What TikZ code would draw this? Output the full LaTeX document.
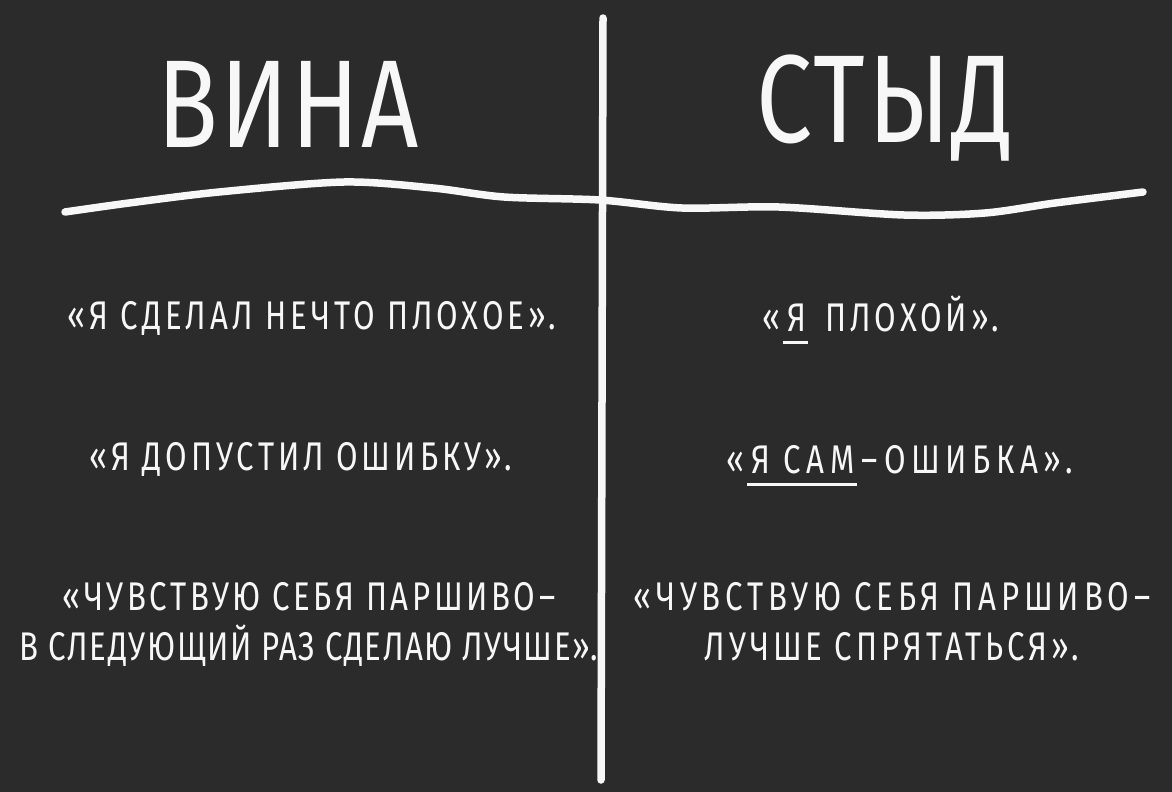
\documentclass[tikz,border=0pt]{standalone}
\usepackage{fontspec}
\setmainfont{Fira Sans}
\newfontfamily\titlefont[FakeStretch=0.8,LetterSpace=2]{Fira Sans}
\newfontfamily\quotefont[FakeStretch=0.78,LetterSpace=10]{Fira Sans}
\usepackage{xcolor}
\usepackage{tikz}
\usetikzlibrary{positioning}

\definecolor{board}{HTML}{2B2B2B}
\definecolor{chalk}{HTML}{F7F7F7}

% hand underline under a word
\newcommand\chalkul[1]{\setbox0=\hbox{#1}\rlap{\kern-4pt\rule[-13pt]{\dimexpr\wd0+6pt\relax}{2.8pt}}\box0\relax}

\begin{document}
\begin{tikzpicture}[x=1pt,y=-1pt]
	\tikzset{
		heading/.style={text=chalk,font=\titlefont\fontsize{125}{125}\selectfont,inner sep=0pt},
		quote/.style={text=chalk,font=\quotefont\fontsize{40}{50}\selectfont,align=center,inner sep=0pt,anchor=base},
		chalkline/.style={draw=chalk,line width=7.5pt,line cap=round,line join=round}
	}
	\useasboundingbox (0,0) rectangle (1172,792);
	\fill[board] (0,0) rectangle (1172,792);
	
	% the cross
	\coordinate (top) at (603,18);
	\coordinate (bottom) at (601,780);
	\draw[chalkline] (top) -- (bottom);
	\draw[chalkline] plot[smooth] coordinates {(65,212) (129,203) (219,192) (344,182) (433,188) (504,197) (600,200) (682,208) (779,207) (904,215) (985,213) (1055,203) (1143,192)};
	
	% headings
	\node[heading] (guilt) at (288,104) {ВИНА};
	\node[heading] (shame) at (885,108) {СТЫД};
	
	% left column
	\node[quote] (g1) at (312,329) {«Я СДЕЛАЛ НЕЧТО ПЛОХОЕ».};
	\node[quote] (g2) at (301,470) {«Я ДОПУСТИЛ ОШИБКУ».};
	\node[quote] (g3) at (309,660) {\addfontfeature{LetterSpace=9}«ЧУВСТВУЮ СЕБЯ ПАРШИВО–\\\addfontfeature{LetterSpace=4}В СЛЕДУЮЩИЙ РАЗ СДЕЛАЮ ЛУЧШЕ».};
	
	% right column
	\node[quote] (s1) at (881,331) {«\,\chalkul{Я}\, ПЛОХОЙ».};
	\node[quote] (s2) at (900,473) {\addfontfeature{LetterSpace=14}«\,\chalkul{Я САМ}\,–\,ОШИБКА».};
	\node[quote] (s3) at (892,660) {\addfontfeature{LetterSpace=12}«ЧУВСТВУЮ СЕБЯ ПАРШИВО–\\ЛУЧШЕ СПРЯТАТЬСЯ».};
\end{tikzpicture}
\end{document}
